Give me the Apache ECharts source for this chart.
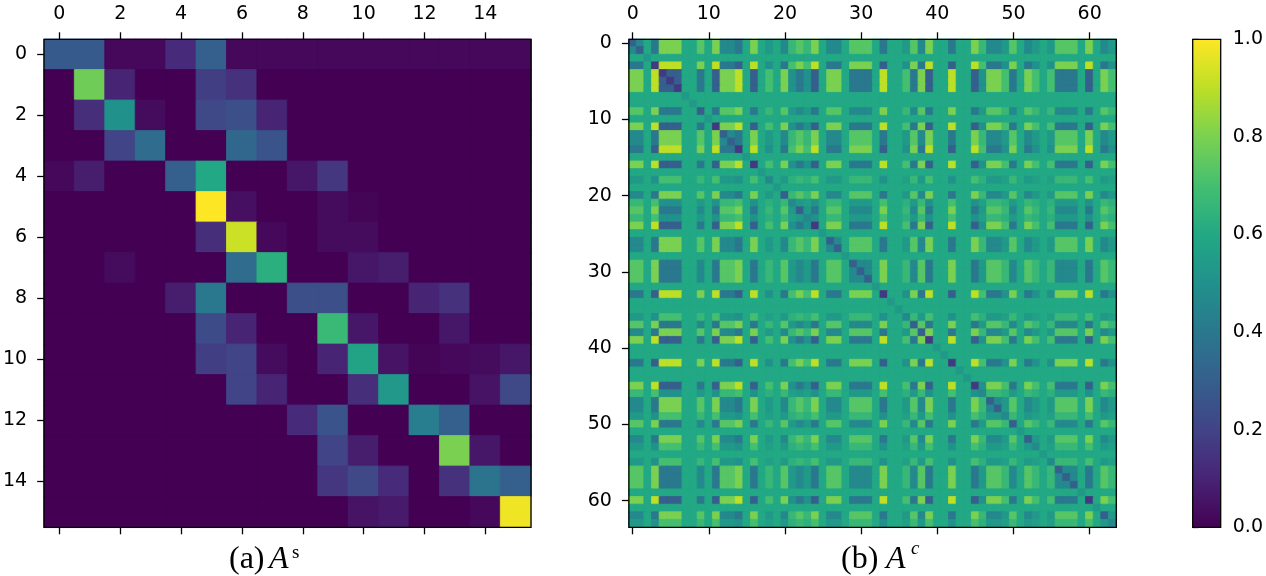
<!DOCTYPE html>
<html>
<head>
<meta charset="utf-8">
<script src="https://cdn.jsdelivr.net/npm/echarts@6/dist/echarts.min.js"></script>
<style>
html,body{margin:0;padding:0;background:#fff;}
#chart{width:1266px;height:576px;}
</style>
</head>
<body>
<div id="chart"></div>
<script>
// ---------- data ----------
const leftCats = Array.from({length:16}, (_, i) => String(i));
const rightCats = Array.from({length:64}, (_, i) => String(i));
const colorbarTicks = [0.0, 0.2, 0.4, 0.6, 0.8, 1.0];

// A^s (16 x 16), rows top to bottom
const leftMatrix = [
  [0.28,0.28,0.02,0.02,0.12,0.30,0.02,0.02,0.02,0.02,0.02,0.02,0.02,0.02,0.02,0.02],
  [0,0.78,0.10,0,0,0.18,0.14,0,0,0,0,0,0,0,0,0],
  [0,0.13,0.50,0.03,0,0.22,0.24,0.10,0,0,0,0,0,0,0,0],
  [0,0,0.20,0.35,0,0,0.33,0.26,0,0,0,0,0,0,0,0],
  [0.02,0.08,0,0,0.30,0.60,0,0,0.06,0.16,0,0,0,0,0,0],
  [0,0,0,0,0,1.00,0.04,0,0,0.03,0.01,0,0,0,0,0],
  [0,0,0,0,0,0.13,0.92,0.02,0,0.03,0.03,0,0,0,0,0],
  [0,0,0.03,0,0,0,0.35,0.63,0,0,0.06,0.08,0,0,0,0],
  [0,0,0,0,0.08,0.40,0,0,0.24,0.24,0,0,0.10,0.14,0,0],
  [0,0,0,0,0,0.23,0.10,0,0,0.67,0.06,0,0,0.06,0,0],
  [0,0,0,0,0,0.18,0.20,0.03,0,0.10,0.58,0.05,0.01,0.02,0.03,0.06],
  [0,0,0,0,0,0,0.20,0.10,0,0,0.13,0.53,0,0,0.05,0.22],
  [0,0,0,0,0,0,0,0,0.12,0.26,0,0,0.42,0.30,0,0],
  [0,0,0,0,0,0,0,0,0,0.20,0.08,0,0,0.80,0.06,0],
  [0,0,0,0,0,0,0,0,0,0.16,0.22,0.12,0,0.14,0.38,0.30],
  [0,0,0,0,0,0,0,0,0,0,0.05,0.07,0,0,0.02,0.98]
];

// A^c (64 x 64), one string per row; each character is a base-36 digit, value = digit / 30
const rightRows = [
  "9eicoooi imioeeci oigiekmk oieeimmm iciigmeo iiciioke egmiegig mmmioieg",
  "e9icoooi imioeeci oigiekmk oieeimmm iciigmeo iiciioke egmiegig mmmioieg",
  "iigiiiii iiiiiiii iiiiiiii iiiiiiii iiiiiiii iiiiiiii iiiiiiii iiiiiiii",
  "cci5rrri ioircc9i rificlol ricciooo i9iifocr ii9iirlc cfoicfif oooiricf",
  "ooir599i ici9oori 9iliofcf 9iooiccc iriilco9 iirii9fo olciolil ccci9iol",
  "ooir959i ici9oori 9iliofcf 9iooiccc iriilco9 iirii9fo olciolil ccci9iol",
  "ooir995i ici9oori 9iliofcf 9iooiccc iriilco9 iirii9fo olciolil ccci9iol",
  "iiiiiiig iiiiiiii iiiiiiii iiiiiiii iiiiiiii iiiiiiii iiiiiiii iiiiiiii",
  "iiiiiiii giiiiiii iiiiiiii iiiiiiii iiiiiiii iiiiiiii iiiiiiii iiiiiiii",
  "mmioccci i9icmmoi cikimgeg cimmieee ioiikemc iioiicgm mkeimkik eeeicimk",
  "iiiiiiii iigiiiii iiiiiiii iiiiiiii iiiiiiii iiiiiiii iiiiiiii iiiiiiii",
  "ooir999i ici5oori 9iliofcf 9iooiccc iriilco9 iirii9fo olciolil ccci9iol",
  "eeicoooi imio9eci oigiekmk oieeimmm iciigmeo iiciioke egmiegig mmmioieg",
  "eeicoooi imioe9ci oigiekmk oieeimmm iciigmeo iiciioke egmiegig mmmioieg",
  "cci9rrri ioircc5i rificlol ricciooo i9iifocr ii9iirlc cfoicfif oooiricf",
  "iiiiiiii iiiiiiig iiiiiiii iiiiiiii iiiiiiii iiiiiiii iiiiiiii iiiiiiii",
  "ooir999i ici9oori 5iliofcf 9iooiccc iriilco9 iirii9fo olciolil ccci9iol",
  "iiiiiiii iiiiiiii igiiiiii iiiiiiii iiiiiiii iiiiiiii iiiiiiii iiiiiiii",
  "ggifllli ikilggfi lieigjkj liggikkk ifiihkgl iifiiljg ghkighih kkkiligh",
  "iiiiiiii iiiiiiii iiigiiii iiiiiiii iiiiiiii iiiiiiii iiiiiiii iiiiiiii",
  "eeicoooi imioeeci oigi9kmk oieeimmm iciigmeo iiciioke egmiegig mmmioieg",
  "kkilfffi igifkkli fijikegh fikkiggg iliijgkf iiliifhk kjgikjij gggifikj",
  "mmioccci ieicmmoi cikimg9g cimmieee ioiikemc iioiicgm mkeimkik eeeicimk",
  "kkilfffi igifkkli fijikhge fikkiggg iliijgkf iiliifhk kjgikjij gggifikj",
  "ooir999i ici9oori 9iliofcf 5iooiccc iriilco9 iirii9fo olciolil ccci9iol",
  "iiiiiiii iiiiiiii iiiiiiii igiiiiii iiiiiiii iiiiiiii iiiiiiii iiiiiiii",
  "eeicoooi imioeeci oigiekmk oi9eimmm iciigmeo iiciioke egmiegig mmmioieg",
  "eeicoooi imioeeci oigiekmk oie9immm iciigmeo iiciioke egmiegig mmmioieg",
  "iiiiiiii iiiiiiii iiiiiiii iiiigiii iiiiiiii iiiiiiii iiiiiiii iiiiiiii",
  "mmioccci ieicmmoi cikimgeg cimmi9ee ioiikemc iioiicgm mkeimkik eeeicimk",
  "mmioccci ieicmmoi cikimgeg cimmie9e ioiikemc iioiicgm mkeimkik eeeicimk",
  "mmioccci ieicmmoi cikimgeg cimmiee9 ioiikemc iioiicgm mkeimkik eeeicimk",
  "iiiiiiii iiiiiiii iiiiiiii iiiiiiii giiiiiii iiiiiiii iiiiiiii iiiiiiii",
  "cci9rrri ioircc9i rificlol ricciooo i5iifocr ii9iirlc cfoicfif oooiricf",
  "iiiiiiii iiiiiiii iiiiiiii iiiiiiii iigiiiii iiiiiiii iiiiiiii iiiiiiii",
  "iiiiiiii iiiiiiii iiiiiiii iiiiiiii iiigiiii iiiiiiii iiiiiiii iiiiiiii",
  "ggifllli ikilggfi lihigjkj liggikkk ifiiekgl iifiiljg ghkighih kkkiligh",
  "mmioccci ieicmmoi cikimgeg cimmieee ioiik9mc iioiicgm mkeimkik eeeicimk",
  "eeicoooi imioeeci oigiekmk oieeimmm iciigm9o iiciioke egmiegig mmmioieg",
  "ooir999i ici9oori 9iliofcf 9iooiccc iriilco5 iirii9fo olciolil ccci9iol",
  "iiiiiiii iiiiiiii iiiiiiii iiiiiiii iiiiiiii giiiiiii iiiiiiii iiiiiiii",
  "iiiiiiii iiiiiiii iiiiiiii iiiiiiii iiiiiiii igiiiiii iiiiiiii iiiiiiii",
  "cci9rrri ioircc9i rificlol ricciooo i9iifocr ii5iirlc cfoicfif oooiricf",
  "iiiiiiii iiiiiiii iiiiiiii iiiiiiii iiiiiiii iiigiiii iiiiiiii iiiiiiii",
  "iiiiiiii iiiiiiii iiiiiiii iiiiiiii iiiiiiii iiiigiii iiiiiiii iiiiiiii",
  "ooir999i ici9oori 9iliofcf 9iooiccc iriilco9 iirii5fo olciolil ccci9iol",
  "kkilfffi igifkkli fijikhgh fikkiggg iliijgkf iiliifek kjgikjij gggifikj",
  "eeicoooi imioeeci oigiekmk oieeimmm iciigmeo iiciiok9 egmiegig mmmioieg",
  "eeicoooi imioeeci oigiekmk oieeimmm iciigmeo iiciioke 9gmiegig mmmioieg",
  "ggifllli ikilggfi lihigjkj liggikkk ifiihkgl iifiiljg gekighih kkkiligh",
  "mmioccci ieicmmoi cikimgeg cimmieee ioiikemc iioiicgm mk9imkik eeeicimk",
  "iiiiiiii iiiiiiii iiiiiiii iiiiiiii iiiiiiii iiiiiiii iiigiiii iiiiiiii",
  "eeicoooi imioeeci oigiekmk oieeimmm iciigmeo iiciioke egmi9gig mmmioieg",
  "ggifllli ikilggfi lihigjkj liggikkk ifiihkgl iifiiljg ghkigeih kkkiligh",
  "iiiiiiii iiiiiiii iiiiiiii iiiiiiii iiiiiiii iiiiiiii iiiiiigi iiiiiiii",
  "ggifllli ikilggfi lihigjkj liggikkk ifiihkgl iifiiljg ghkighie kkkiligh",
  "mmioccci ieicmmoi cikimgeg cimmieee ioiikemc iioiicgm mkeimkik 9eeicimk",
  "mmioccci ieicmmoi cikimgeg cimmieee ioiikemc iioiicgm mkeimkik e9eicimk",
  "mmioccci ieicmmoi cikimgeg cimmieee ioiikemc iioiicgm mkeimkik ee9icimk",
  "iiiiiiii iiiiiiii iiiiiiii iiiiiiii iiiiiiii iiiiiiii iiiiiiii iiigiiii",
  "ooir999i ici9oori 9iliofcf 9iooiccc iriilco9 iirii9fo olciolil ccci5iol",
  "iiiiiiii iiiiiiii iiiiiiii iiiiiiii iiiiiiii iiiiiiii iiiiiiii iiiiigii",
  "eeicoooi imioeeci oigiekmk oieeimmm iciigmeo iiciioke egmiegig mmmioi9g",
  "ggifllli ikilggfi lihigjkj liggikkk ifiihkgl iifiiljg ghkighih kkkilige"
];

const viridis = ['#440154','#482475','#414487','#355f8d','#2a788e','#21918c',
                 '#22a884','#44bf70','#7ad151','#bddf26','#fde725'];

// ---------- colour helper (same scale as the colour bar) ----------
function hex2rgb(h) { return [1,3,5].map(i => parseInt(h.substr(i, 2), 16)); }
const viridisRGB = viridis.map(hex2rgb);
function colorOf(v) {
  const t = Math.max(0, Math.min(1, v)) * (viridisRGB.length - 1);
  const i = Math.min(Math.floor(t), viridisRGB.length - 2);
  const f = t - i;
  const a = viridisRGB[i], b = viridisRGB[i + 1];
  const c = a.map((x, k) => Math.round(x + (b[k] - x) * f));
  return 'rgb(' + c.join(',') + ')';
}
function cell(x, y, v) {
  const c = colorOf(v);
  return {value: [x, y, v], itemStyle: {color: c, borderColor: c, borderWidth: 0.8}};
}

// ---------- build series data ----------
const leftData = [];
leftMatrix.forEach((row, y) => row.forEach((v, x) => leftData.push(cell(x, y, v))));
const rightData = [];
rightRows.forEach((str, y) => {
  const s = str.replace(/\s+/g, '');
  for (let x = 0; x < s.length; x++) rightData.push(cell(x, y, parseInt(s[x], 36) / 30));
});

// ---------- layout ----------
const G0 = {left: 44, top: 39.3, width: 487, height: 488};
const G1 = {left: 628.9, top: 39.3, width: 487.4, height: 488};
const G2 = {left: 1192.7, top: 39.3, width: 28, height: 488};

const FONT = 'DejaVu Sans';
const FS = 19;
const tickStyle = {lineStyle: {color: '#000', width: 1.3}, length: 7};
function catX(data, interval, labels, gridIndex, position) {
  return {
    type: 'category', data: data, gridIndex: gridIndex, position: position,
    boundaryGap: true, z: 10,
    axisLine: {show: false},
    axisTick: Object.assign({show: true, interval: interval, alignWithLabel: true}, tickStyle),
    axisLabel: {show: labels, interval: interval, fontSize: FS, fontFamily: FONT, color: '#000', margin: 16},
    splitLine: {show: false}, splitArea: {show: false}
  };
}
function catY(data, interval, gridIndex) {
  return {
    type: 'category', data: data, gridIndex: gridIndex, inverse: true,
    boundaryGap: true, z: 10,
    axisLine: {show: false},
    axisTick: Object.assign({show: true, interval: interval, alignWithLabel: true}, tickStyle),
    axisLabel: {show: true, interval: interval, fontSize: FS, fontFamily: FONT, color: '#000', margin: 17},
    splitLine: {show: false}, splitArea: {show: false}
  };
}

const chart = echarts.init(document.getElementById('chart'), null, {renderer: 'canvas'});
const gradStops = viridis.map((c, i) => ({offset: i / (viridis.length - 1), color: c}));

function borderRect(g) {
  return {type: 'rect', z: 100, silent: true,
    shape: {x: g.left, y: g.top, width: g.width, height: g.height},
    style: {fill: 'none', stroke: '#000', lineWidth: 1.3}};
}
function txt(x, y, text, size, italic) {
  return {type: 'text', x: x, y: y, z: 100, silent: true,
    style: {text: text, fontSize: size, fontFamily: '"Liberation Serif", "Times New Roman", serif',
            fontStyle: italic ? 'italic' : 'normal', fill: '#000', align: 'left', verticalAlign: 'middle'}};
}

chart.setOption({
  animation: false,
  backgroundColor: '#fff',
  grid: [G0, G1, G2].map(g => Object.assign({containLabel: false}, g)),
  xAxis: [
    catX(leftCats, 1, true, 0, 'top'),
    catX(leftCats, 1, false, 0, 'bottom'),
    catX(rightCats, 9, true, 1, 'top'),
    catX(rightCats, 9, false, 1, 'bottom'),
    {type: 'value', gridIndex: 2, show: false, min: 0, max: 1}
  ],
  yAxis: [
    catY(leftCats, 1, 0),
    catY(rightCats, 9, 1),
    {type: 'value', gridIndex: 2, position: 'right', min: colorbarTicks[0], max: colorbarTicks[colorbarTicks.length - 1],
     interval: 0.2, z: 10,
     axisLine: {show: false},
     axisTick: Object.assign({show: true}, tickStyle, {length: 6}),
     axisLabel: {show: true, fontSize: FS, fontFamily: FONT, color: '#000', margin: 14,
                 formatter: v => Number(v).toFixed(1)},
     splitLine: {show: false}}
  ],
  series: [
    {type: 'heatmap', xAxisIndex: 0, yAxisIndex: 0, data: leftData, progressive: 0,
     emphasis: {disabled: true}},
    {type: 'heatmap', xAxisIndex: 2, yAxisIndex: 1, data: rightData, progressive: 0,
     emphasis: {disabled: true}}
  ],
  graphic: [
    {type: 'rect', z: 50, silent: true,
     shape: {x: G2.left, y: G2.top, width: G2.width, height: G2.height},
     style: {fill: {type: 'linear', x: 0, y: 1, x2: 0, y2: 0, colorStops: gradStops}}},
    borderRect(G0), borderRect(G1), borderRect(G2),
    txt(229, 560, '(a)', 32, false),
    txt(269, 560, 'A', 32, true),
    txt(292, 553, 's', 19, false),
    txt(841, 560, '(b)', 32, false),
    txt(886, 560, 'A', 32, true),
    txt(911, 549, 'c', 19, true)
  ]
});
</script>
</body>
</html>
